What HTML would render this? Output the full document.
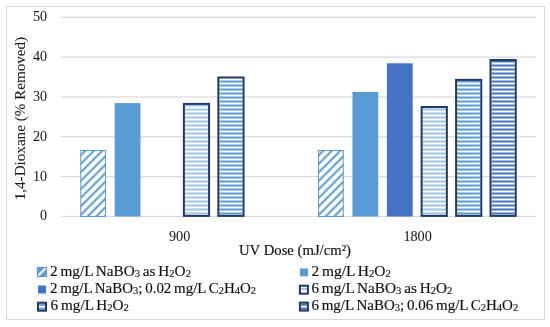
<!DOCTYPE html>
<html><head><meta charset="utf-8"><style>
html,body{margin:0;padding:0;background:#fff;}
svg{display:block;}
text{font-family:"Liberation Serif",serif;font-size:15px;fill:#111;stroke:#111;stroke-width:0.15px;}
.s{font-size:10.5px;}
.lg{word-spacing:-1px;}
.tk{stroke-width:0.05px;fill:#1a1a1a;stroke:#1a1a1a;}
</style></head><body>
<svg width="550" height="327" viewBox="0 0 550 327">
<defs>
<pattern id="diag" patternUnits="userSpaceOnUse" width="6.0104" height="6.0104" patternTransform="rotate(45)"><rect width="6.0104" height="6.0104" fill="#fff"/><rect x="3.642" width="2.05" height="6.0104" fill="#5b9bd5"/></pattern>
<pattern id="diagm" patternUnits="userSpaceOnUse" width="6.0104" height="6.0104" patternTransform="rotate(45)"><rect width="6.0104" height="6.0104" fill="#5b9bd5"/><rect x="4.490" width="2.05" height="6.0104" fill="#fff"/><rect x="-1.520" width="2.05" height="6.0104" fill="#fff"/></pattern>
</defs>
<rect x="6.5" y="6.5" width="538" height="313" fill="#fff" stroke="#d9d9d9" stroke-width="1"/>
<rect x="61" y="16.70" width="475" height="1.2" fill="#d9d9d9"/>
<rect x="61" y="56.53" width="475" height="1.2" fill="#d9d9d9"/>
<rect x="61" y="96.36" width="475" height="1.2" fill="#d9d9d9"/>
<rect x="61" y="136.19" width="475" height="1.2" fill="#d9d9d9"/>
<rect x="61" y="176.02" width="475" height="1.2" fill="#d9d9d9"/>
<rect x="61" y="215.85" width="475" height="1.2" fill="#d9d9d9"/>
<rect x="80.75" y="150.50" width="24.80" height="66.00" fill="url(#diag)" stroke="#5b9bd5" stroke-width="1"/>
<rect x="114.70" y="103.10" width="25.80" height="113.40" fill="#5b9bd5"/>
<rect x="182.90" y="102.90" width="27.20" height="114.00" fill="#fff"/>
<rect x="184.90" y="104.90" width="23.20" height="1.60" fill="#9dc3e6"/>
<rect x="184.90" y="108.50" width="23.20" height="2.00" fill="#9dc3e6"/>
<rect x="184.90" y="112.50" width="23.20" height="2.00" fill="#9dc3e6"/>
<rect x="184.90" y="116.50" width="23.20" height="2.00" fill="#9dc3e6"/>
<rect x="184.90" y="120.50" width="23.20" height="2.00" fill="#9dc3e6"/>
<rect x="184.90" y="124.50" width="23.20" height="2.00" fill="#9dc3e6"/>
<rect x="184.90" y="128.50" width="23.20" height="2.00" fill="#9dc3e6"/>
<rect x="184.90" y="132.50" width="23.20" height="2.00" fill="#9dc3e6"/>
<rect x="184.90" y="136.50" width="23.20" height="2.00" fill="#9dc3e6"/>
<rect x="184.90" y="140.50" width="23.20" height="2.00" fill="#9dc3e6"/>
<rect x="184.90" y="144.50" width="23.20" height="2.00" fill="#9dc3e6"/>
<rect x="184.90" y="148.50" width="23.20" height="2.00" fill="#9dc3e6"/>
<rect x="184.90" y="152.50" width="23.20" height="2.00" fill="#9dc3e6"/>
<rect x="184.90" y="156.50" width="23.20" height="2.00" fill="#9dc3e6"/>
<rect x="184.90" y="160.50" width="23.20" height="2.00" fill="#9dc3e6"/>
<rect x="184.90" y="164.50" width="23.20" height="2.00" fill="#9dc3e6"/>
<rect x="184.90" y="168.50" width="23.20" height="2.00" fill="#9dc3e6"/>
<rect x="184.90" y="172.50" width="23.20" height="2.00" fill="#9dc3e6"/>
<rect x="184.90" y="176.50" width="23.20" height="2.00" fill="#9dc3e6"/>
<rect x="184.90" y="180.50" width="23.20" height="2.00" fill="#9dc3e6"/>
<rect x="184.90" y="184.50" width="23.20" height="2.00" fill="#9dc3e6"/>
<rect x="184.90" y="188.50" width="23.20" height="2.00" fill="#9dc3e6"/>
<rect x="184.90" y="192.50" width="23.20" height="2.00" fill="#9dc3e6"/>
<rect x="184.90" y="196.50" width="23.20" height="2.00" fill="#9dc3e6"/>
<rect x="184.90" y="200.50" width="23.20" height="2.00" fill="#9dc3e6"/>
<rect x="184.90" y="204.50" width="23.20" height="2.00" fill="#9dc3e6"/>
<rect x="184.90" y="208.50" width="23.20" height="2.00" fill="#9dc3e6"/>
<rect x="184.90" y="212.50" width="23.20" height="2.00" fill="#9dc3e6"/>
<rect x="183.90" y="103.90" width="25.20" height="112.00" fill="none" stroke="#1f3864" stroke-width="2"/>
<rect x="217.35" y="76.50" width="27.20" height="140.40" fill="#fff"/>
<rect x="219.35" y="80.50" width="23.20" height="2.00" fill="#5b9bd5"/>
<rect x="219.35" y="84.50" width="23.20" height="2.00" fill="#5b9bd5"/>
<rect x="219.35" y="88.50" width="23.20" height="2.00" fill="#5b9bd5"/>
<rect x="219.35" y="92.50" width="23.20" height="2.00" fill="#5b9bd5"/>
<rect x="219.35" y="96.50" width="23.20" height="2.00" fill="#5b9bd5"/>
<rect x="219.35" y="100.50" width="23.20" height="2.00" fill="#5b9bd5"/>
<rect x="219.35" y="104.50" width="23.20" height="2.00" fill="#5b9bd5"/>
<rect x="219.35" y="108.50" width="23.20" height="2.00" fill="#5b9bd5"/>
<rect x="219.35" y="112.50" width="23.20" height="2.00" fill="#5b9bd5"/>
<rect x="219.35" y="116.50" width="23.20" height="2.00" fill="#5b9bd5"/>
<rect x="219.35" y="120.50" width="23.20" height="2.00" fill="#5b9bd5"/>
<rect x="219.35" y="124.50" width="23.20" height="2.00" fill="#5b9bd5"/>
<rect x="219.35" y="128.50" width="23.20" height="2.00" fill="#5b9bd5"/>
<rect x="219.35" y="132.50" width="23.20" height="2.00" fill="#5b9bd5"/>
<rect x="219.35" y="136.50" width="23.20" height="2.00" fill="#5b9bd5"/>
<rect x="219.35" y="140.50" width="23.20" height="2.00" fill="#5b9bd5"/>
<rect x="219.35" y="144.50" width="23.20" height="2.00" fill="#5b9bd5"/>
<rect x="219.35" y="148.50" width="23.20" height="2.00" fill="#5b9bd5"/>
<rect x="219.35" y="152.50" width="23.20" height="2.00" fill="#5b9bd5"/>
<rect x="219.35" y="156.50" width="23.20" height="2.00" fill="#5b9bd5"/>
<rect x="219.35" y="160.50" width="23.20" height="2.00" fill="#5b9bd5"/>
<rect x="219.35" y="164.50" width="23.20" height="2.00" fill="#5b9bd5"/>
<rect x="219.35" y="168.50" width="23.20" height="2.00" fill="#5b9bd5"/>
<rect x="219.35" y="172.50" width="23.20" height="2.00" fill="#5b9bd5"/>
<rect x="219.35" y="176.50" width="23.20" height="2.00" fill="#5b9bd5"/>
<rect x="219.35" y="180.50" width="23.20" height="2.00" fill="#5b9bd5"/>
<rect x="219.35" y="184.50" width="23.20" height="2.00" fill="#5b9bd5"/>
<rect x="219.35" y="188.50" width="23.20" height="2.00" fill="#5b9bd5"/>
<rect x="219.35" y="192.50" width="23.20" height="2.00" fill="#5b9bd5"/>
<rect x="219.35" y="196.50" width="23.20" height="2.00" fill="#5b9bd5"/>
<rect x="219.35" y="200.50" width="23.20" height="2.00" fill="#5b9bd5"/>
<rect x="219.35" y="204.50" width="23.20" height="2.00" fill="#5b9bd5"/>
<rect x="219.35" y="208.50" width="23.20" height="2.00" fill="#5b9bd5"/>
<rect x="219.35" y="212.50" width="23.20" height="2.00" fill="#5b9bd5"/>
<rect x="218.35" y="77.50" width="25.20" height="138.40" fill="none" stroke="#1f3864" stroke-width="2"/>
<rect x="318.50" y="150.50" width="24.80" height="66.00" fill="url(#diag)" stroke="#5b9bd5" stroke-width="1"/>
<rect x="352.45" y="91.90" width="25.80" height="124.60" fill="#5b9bd5"/>
<rect x="386.90" y="63.30" width="25.80" height="153.20" fill="#4472c4"/>
<rect x="420.65" y="106.00" width="27.20" height="110.90" fill="#fff"/>
<rect x="422.65" y="108.50" width="23.20" height="2.00" fill="#9dc3e6"/>
<rect x="422.65" y="112.50" width="23.20" height="2.00" fill="#9dc3e6"/>
<rect x="422.65" y="116.50" width="23.20" height="2.00" fill="#9dc3e6"/>
<rect x="422.65" y="120.50" width="23.20" height="2.00" fill="#9dc3e6"/>
<rect x="422.65" y="124.50" width="23.20" height="2.00" fill="#9dc3e6"/>
<rect x="422.65" y="128.50" width="23.20" height="2.00" fill="#9dc3e6"/>
<rect x="422.65" y="132.50" width="23.20" height="2.00" fill="#9dc3e6"/>
<rect x="422.65" y="136.50" width="23.20" height="2.00" fill="#9dc3e6"/>
<rect x="422.65" y="140.50" width="23.20" height="2.00" fill="#9dc3e6"/>
<rect x="422.65" y="144.50" width="23.20" height="2.00" fill="#9dc3e6"/>
<rect x="422.65" y="148.50" width="23.20" height="2.00" fill="#9dc3e6"/>
<rect x="422.65" y="152.50" width="23.20" height="2.00" fill="#9dc3e6"/>
<rect x="422.65" y="156.50" width="23.20" height="2.00" fill="#9dc3e6"/>
<rect x="422.65" y="160.50" width="23.20" height="2.00" fill="#9dc3e6"/>
<rect x="422.65" y="164.50" width="23.20" height="2.00" fill="#9dc3e6"/>
<rect x="422.65" y="168.50" width="23.20" height="2.00" fill="#9dc3e6"/>
<rect x="422.65" y="172.50" width="23.20" height="2.00" fill="#9dc3e6"/>
<rect x="422.65" y="176.50" width="23.20" height="2.00" fill="#9dc3e6"/>
<rect x="422.65" y="180.50" width="23.20" height="2.00" fill="#9dc3e6"/>
<rect x="422.65" y="184.50" width="23.20" height="2.00" fill="#9dc3e6"/>
<rect x="422.65" y="188.50" width="23.20" height="2.00" fill="#9dc3e6"/>
<rect x="422.65" y="192.50" width="23.20" height="2.00" fill="#9dc3e6"/>
<rect x="422.65" y="196.50" width="23.20" height="2.00" fill="#9dc3e6"/>
<rect x="422.65" y="200.50" width="23.20" height="2.00" fill="#9dc3e6"/>
<rect x="422.65" y="204.50" width="23.20" height="2.00" fill="#9dc3e6"/>
<rect x="422.65" y="208.50" width="23.20" height="2.00" fill="#9dc3e6"/>
<rect x="422.65" y="212.50" width="23.20" height="2.00" fill="#9dc3e6"/>
<rect x="421.65" y="107.00" width="25.20" height="108.90" fill="none" stroke="#1f3864" stroke-width="2"/>
<rect x="455.10" y="78.90" width="27.20" height="138.00" fill="#fff"/>
<rect x="457.10" y="80.90" width="23.20" height="1.60" fill="#5b9bd5"/>
<rect x="457.10" y="84.50" width="23.20" height="2.00" fill="#5b9bd5"/>
<rect x="457.10" y="88.50" width="23.20" height="2.00" fill="#5b9bd5"/>
<rect x="457.10" y="92.50" width="23.20" height="2.00" fill="#5b9bd5"/>
<rect x="457.10" y="96.50" width="23.20" height="2.00" fill="#5b9bd5"/>
<rect x="457.10" y="100.50" width="23.20" height="2.00" fill="#5b9bd5"/>
<rect x="457.10" y="104.50" width="23.20" height="2.00" fill="#5b9bd5"/>
<rect x="457.10" y="108.50" width="23.20" height="2.00" fill="#5b9bd5"/>
<rect x="457.10" y="112.50" width="23.20" height="2.00" fill="#5b9bd5"/>
<rect x="457.10" y="116.50" width="23.20" height="2.00" fill="#5b9bd5"/>
<rect x="457.10" y="120.50" width="23.20" height="2.00" fill="#5b9bd5"/>
<rect x="457.10" y="124.50" width="23.20" height="2.00" fill="#5b9bd5"/>
<rect x="457.10" y="128.50" width="23.20" height="2.00" fill="#5b9bd5"/>
<rect x="457.10" y="132.50" width="23.20" height="2.00" fill="#5b9bd5"/>
<rect x="457.10" y="136.50" width="23.20" height="2.00" fill="#5b9bd5"/>
<rect x="457.10" y="140.50" width="23.20" height="2.00" fill="#5b9bd5"/>
<rect x="457.10" y="144.50" width="23.20" height="2.00" fill="#5b9bd5"/>
<rect x="457.10" y="148.50" width="23.20" height="2.00" fill="#5b9bd5"/>
<rect x="457.10" y="152.50" width="23.20" height="2.00" fill="#5b9bd5"/>
<rect x="457.10" y="156.50" width="23.20" height="2.00" fill="#5b9bd5"/>
<rect x="457.10" y="160.50" width="23.20" height="2.00" fill="#5b9bd5"/>
<rect x="457.10" y="164.50" width="23.20" height="2.00" fill="#5b9bd5"/>
<rect x="457.10" y="168.50" width="23.20" height="2.00" fill="#5b9bd5"/>
<rect x="457.10" y="172.50" width="23.20" height="2.00" fill="#5b9bd5"/>
<rect x="457.10" y="176.50" width="23.20" height="2.00" fill="#5b9bd5"/>
<rect x="457.10" y="180.50" width="23.20" height="2.00" fill="#5b9bd5"/>
<rect x="457.10" y="184.50" width="23.20" height="2.00" fill="#5b9bd5"/>
<rect x="457.10" y="188.50" width="23.20" height="2.00" fill="#5b9bd5"/>
<rect x="457.10" y="192.50" width="23.20" height="2.00" fill="#5b9bd5"/>
<rect x="457.10" y="196.50" width="23.20" height="2.00" fill="#5b9bd5"/>
<rect x="457.10" y="200.50" width="23.20" height="2.00" fill="#5b9bd5"/>
<rect x="457.10" y="204.50" width="23.20" height="2.00" fill="#5b9bd5"/>
<rect x="457.10" y="208.50" width="23.20" height="2.00" fill="#5b9bd5"/>
<rect x="457.10" y="212.50" width="23.20" height="2.00" fill="#5b9bd5"/>
<rect x="456.10" y="79.90" width="25.20" height="136.00" fill="none" stroke="#1f3864" stroke-width="2"/>
<rect x="489.55" y="59.00" width="27.20" height="157.90" fill="#fff"/>
<rect x="491.55" y="61.00" width="23.20" height="1.50" fill="#4472c4"/>
<rect x="491.55" y="64.50" width="23.20" height="2.00" fill="#4472c4"/>
<rect x="491.55" y="68.50" width="23.20" height="2.00" fill="#4472c4"/>
<rect x="491.55" y="72.50" width="23.20" height="2.00" fill="#4472c4"/>
<rect x="491.55" y="76.50" width="23.20" height="2.00" fill="#4472c4"/>
<rect x="491.55" y="80.50" width="23.20" height="2.00" fill="#4472c4"/>
<rect x="491.55" y="84.50" width="23.20" height="2.00" fill="#4472c4"/>
<rect x="491.55" y="88.50" width="23.20" height="2.00" fill="#4472c4"/>
<rect x="491.55" y="92.50" width="23.20" height="2.00" fill="#4472c4"/>
<rect x="491.55" y="96.50" width="23.20" height="2.00" fill="#4472c4"/>
<rect x="491.55" y="100.50" width="23.20" height="2.00" fill="#4472c4"/>
<rect x="491.55" y="104.50" width="23.20" height="2.00" fill="#4472c4"/>
<rect x="491.55" y="108.50" width="23.20" height="2.00" fill="#4472c4"/>
<rect x="491.55" y="112.50" width="23.20" height="2.00" fill="#4472c4"/>
<rect x="491.55" y="116.50" width="23.20" height="2.00" fill="#4472c4"/>
<rect x="491.55" y="120.50" width="23.20" height="2.00" fill="#4472c4"/>
<rect x="491.55" y="124.50" width="23.20" height="2.00" fill="#4472c4"/>
<rect x="491.55" y="128.50" width="23.20" height="2.00" fill="#4472c4"/>
<rect x="491.55" y="132.50" width="23.20" height="2.00" fill="#4472c4"/>
<rect x="491.55" y="136.50" width="23.20" height="2.00" fill="#4472c4"/>
<rect x="491.55" y="140.50" width="23.20" height="2.00" fill="#4472c4"/>
<rect x="491.55" y="144.50" width="23.20" height="2.00" fill="#4472c4"/>
<rect x="491.55" y="148.50" width="23.20" height="2.00" fill="#4472c4"/>
<rect x="491.55" y="152.50" width="23.20" height="2.00" fill="#4472c4"/>
<rect x="491.55" y="156.50" width="23.20" height="2.00" fill="#4472c4"/>
<rect x="491.55" y="160.50" width="23.20" height="2.00" fill="#4472c4"/>
<rect x="491.55" y="164.50" width="23.20" height="2.00" fill="#4472c4"/>
<rect x="491.55" y="168.50" width="23.20" height="2.00" fill="#4472c4"/>
<rect x="491.55" y="172.50" width="23.20" height="2.00" fill="#4472c4"/>
<rect x="491.55" y="176.50" width="23.20" height="2.00" fill="#4472c4"/>
<rect x="491.55" y="180.50" width="23.20" height="2.00" fill="#4472c4"/>
<rect x="491.55" y="184.50" width="23.20" height="2.00" fill="#4472c4"/>
<rect x="491.55" y="188.50" width="23.20" height="2.00" fill="#4472c4"/>
<rect x="491.55" y="192.50" width="23.20" height="2.00" fill="#4472c4"/>
<rect x="491.55" y="196.50" width="23.20" height="2.00" fill="#4472c4"/>
<rect x="491.55" y="200.50" width="23.20" height="2.00" fill="#4472c4"/>
<rect x="491.55" y="204.50" width="23.20" height="2.00" fill="#4472c4"/>
<rect x="491.55" y="208.50" width="23.20" height="2.00" fill="#4472c4"/>
<rect x="491.55" y="212.50" width="23.20" height="2.00" fill="#4472c4"/>
<rect x="490.55" y="60.00" width="25.20" height="155.90" fill="none" stroke="#1f3864" stroke-width="2"/>
<text class="tk" x="47.1" y="21.4" text-anchor="end" textLength="14.2" lengthAdjust="spacingAndGlyphs">50</text>
<text class="tk" x="47.1" y="61.2" text-anchor="end" textLength="14.2" lengthAdjust="spacingAndGlyphs">40</text>
<text class="tk" x="47.1" y="101.0" text-anchor="end" textLength="14.2" lengthAdjust="spacingAndGlyphs">30</text>
<text class="tk" x="47.1" y="140.8" text-anchor="end" textLength="14.2" lengthAdjust="spacingAndGlyphs">20</text>
<text class="tk" x="47.1" y="180.6" text-anchor="end" textLength="14.2" lengthAdjust="spacingAndGlyphs">10</text>
<text class="tk" x="47.1" y="220.4" text-anchor="end" textLength="7.1" lengthAdjust="spacingAndGlyphs">0</text>
<text class="tk" x="179.6" y="240.9" text-anchor="middle" textLength="21.3" lengthAdjust="spacingAndGlyphs">900</text>
<text class="tk" x="417.6" y="240.9" text-anchor="middle" textLength="28.4" lengthAdjust="spacingAndGlyphs">1800</text>
<text x="239" y="255.1" textLength="112" lengthAdjust="spacingAndGlyphs">UV Dose (mJ/cm²)</text>
<text class="tk" transform="translate(25,200.3) rotate(-90)" x="0" y="0" textLength="163.4" lengthAdjust="spacingAndGlyphs">1,4-Dioxane (% Removed)</text>
<rect x="37.5" y="267.5" width="9" height="9" fill="url(#diagm)" stroke="#5b9bd5" stroke-width="1.2"/>
<text class="lg" x="50" y="275.8" textLength="141" lengthAdjust="spacingAndGlyphs">2 mg/L NaBO<tspan class="s" baseline-shift="-1.0">3</tspan> as H<tspan class="s" baseline-shift="-1.0">2</tspan>O<tspan class="s" baseline-shift="-1.0">2</tspan></text>
<rect x="38" y="285.5" width="8" height="8" fill="#4472c4"/>
<text class="lg" x="50" y="293.2" textLength="206" lengthAdjust="spacingAndGlyphs">2 mg/L NaBO<tspan class="s" baseline-shift="-1.0">3</tspan>; 0.02 mg/L C<tspan class="s" baseline-shift="-1.0">2</tspan>H<tspan class="s" baseline-shift="-1.0">4</tspan>O<tspan class="s" baseline-shift="-1.0">2</tspan></text>
<rect x="37.00" y="301.70" width="10.00" height="10.00" fill="#fff"/>
<rect x="39.00" y="303.70" width="6.00" height="2.00" fill="#5b9bd5"/>
<rect x="39.00" y="307.70" width="6.00" height="2.00" fill="#5b9bd5"/>
<rect x="38.00" y="302.70" width="8.00" height="8.00" fill="none" stroke="#1f3864" stroke-width="2"/>
<text class="lg" x="50.6" y="310.4" textLength="78.2" lengthAdjust="spacingAndGlyphs">6 mg/L H<tspan class="s" baseline-shift="-1.0">2</tspan>O<tspan class="s" baseline-shift="-1.0">2</tspan></text>
<rect x="300" y="268.4" width="8" height="8" fill="#5b9bd5"/>
<text class="lg" x="311.4" y="275.8" textLength="79.5" lengthAdjust="spacingAndGlyphs">2 mg/L H<tspan class="s" baseline-shift="-1.0">2</tspan>O<tspan class="s" baseline-shift="-1.0">2</tspan></text>
<rect x="298.90" y="284.70" width="10.00" height="10.00" fill="#fff"/>
<rect x="300.90" y="287.90" width="6.00" height="2.00" fill="#9dc3e6"/>
<rect x="299.90" y="285.70" width="8.00" height="8.00" fill="none" stroke="#1f3864" stroke-width="2"/>
<text class="lg" x="311.4" y="293.2" textLength="141" lengthAdjust="spacingAndGlyphs">6 mg/L NaBO<tspan class="s" baseline-shift="-1.0">3</tspan> as H<tspan class="s" baseline-shift="-1.0">2</tspan>O<tspan class="s" baseline-shift="-1.0">2</tspan></text>
<rect x="298.90" y="301.60" width="10.00" height="10.00" fill="#fff"/>
<rect x="300.90" y="303.60" width="6.00" height="2.00" fill="#4472c4"/>
<rect x="300.90" y="307.60" width="6.00" height="2.00" fill="#4472c4"/>
<rect x="299.90" y="302.60" width="8.00" height="8.00" fill="none" stroke="#1f3864" stroke-width="2"/>
<text class="lg" x="311.4" y="310.4" textLength="206.8" lengthAdjust="spacingAndGlyphs">6 mg/L NaBO<tspan class="s" baseline-shift="-1.0">3</tspan>; 0.06 mg/L C<tspan class="s" baseline-shift="-1.0">2</tspan>H<tspan class="s" baseline-shift="-1.0">4</tspan>O<tspan class="s" baseline-shift="-1.0">2</tspan></text>
</svg>
</body></html>
